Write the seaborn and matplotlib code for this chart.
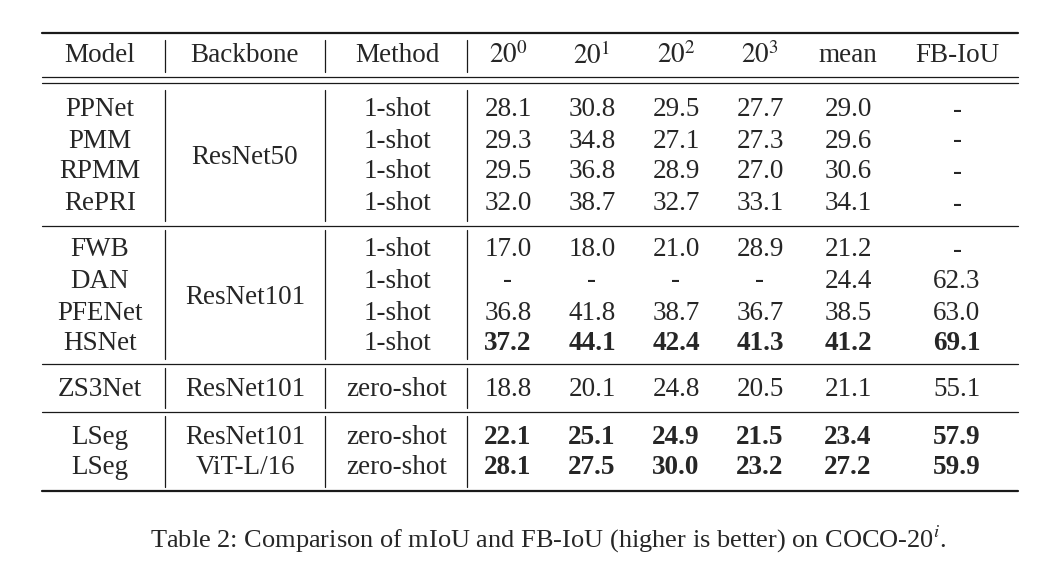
import matplotlib
matplotlib.use("Agg")
import matplotlib.pyplot as plt
import seaborn as sns

sns.set_theme(style="white")
plt.rcParams["font.family"] = "Liberation Serif"
plt.rcParams["mathtext.fontset"] = "stix"

headers = ["Model", "Backbone", "Method", "$20^0$", "$20^1$", "$20^2$", "$20^3$", "mean", "FB-IoU"]
models = ["PPNet", "PMM", "RPMM", "RePRI", "FWB", "DAN", "PFENet", "HSNet", "ZS3Net", "LSeg", "LSeg"]
methods = ["1-shot"] * 8 + ["zero-shot"] * 3
fold0 = ["28.1", "29.3", "29.5", "32.0", "17.0", "-", "36.8", "37.2", "18.8", "22.1", "28.1"]
fold1 = ["30.8", "34.8", "36.8", "38.7", "18.0", "-", "41.8", "44.1", "20.1", "25.1", "27.5"]
fold2 = ["29.5", "27.1", "28.9", "32.7", "21.0", "-", "38.7", "42.4", "24.8", "24.9", "30.0"]
fold3 = ["27.7", "27.3", "27.0", "33.1", "28.9", "-", "36.7", "41.3", "20.5", "21.5", "23.2"]
means = ["29.0", "29.6", "30.6", "34.1", "21.2", "24.4", "38.5", "41.2", "21.1", "23.4", "27.2"]
fbiou = ["-", "-", "-", "-", "-", "62.3", "63.0", "69.1", "55.1", "57.9", "59.9"]
bold_rows = [7, 9, 10]
backbones = [("ResNet50", 156), ("ResNet101", 296), ("ResNet101", 389), ("ResNet101", 436), ("ViT-L/16", 466)]
caption = "Table 2: Comparison of mIoU and FB-IoU (higher is better) on COCO-20$^i$."

fig = plt.figure(figsize=(10.58, 5.65), dpi=100)
ax = fig.add_axes([0, 0, 1, 1])
ax.set_xlim(0, 1058); ax.set_ylim(565, 0); ax.axis("off")

xs = [100, 245, 397, 508, 592, 676, 760, 848, 957]
row_y = [109, 140, 171, 203, 249, 280, 312, 343, 389, 436, 466]
fs = 19.5
for x, h in zip(xs, headers):
    ax.text(x, 56, h, ha="center", va="center", fontsize=fs)
cols = [models, None, methods, fold0, fold1, fold2, fold3, means, fbiou]
for i, y in enumerate(row_y):
    for j, c in enumerate(cols):
        if c is None:
            continue
        w = "bold" if (i in bold_rows and j >= 3) else "normal"
        ax.text(xs[j], y + 1, c[i], ha="center", va="center", fontsize=fs, fontweight=w)
for name, y in backbones:
    ax.text(245, y + 1, name, ha="center", va="center", fontsize=fs)

L, R = 42, 1018
ax.plot([L, R], [33, 33], color="k", lw=1.6)
ax.plot([L, R], [77, 77], color="k", lw=0.9)
ax.plot([L, R], [83, 83], color="k", lw=0.9)
for y in [226, 364, 412]:
    ax.plot([L, R], [y, y], color="k", lw=0.9)
ax.plot([L, R], [491, 491], color="k", lw=1.6)
segs = [(40, 72), (90, 221), (230, 359), (368, 408), (416, 487)]
for x in [165, 325, 467]:
    for a, b in segs:
        ax.plot([x, x], [a, b], color="k", lw=0.9)

ax.text(548, 539, caption, ha="center", va="center", fontsize=19)
fig.savefig("out.png", dpi=100, facecolor="white")
